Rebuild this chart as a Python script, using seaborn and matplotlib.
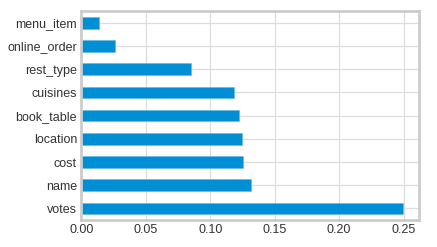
import matplotlib
matplotlib.use("Agg")
import matplotlib.pyplot as plt
import seaborn as sns
import pandas as pd

features = ["menu_item", "online_order", "rest_type", "cuisines", "book_table",
            "location", "cost", "name", "votes"]
importances = [0.0135, 0.0265, 0.0853, 0.1187, 0.1223, 0.1243, 0.1252, 0.1320, 0.2496]

df = pd.DataFrame({"feature": features, "importance": importances})

sns.set_style("whitegrid")
plt.rcParams["font.family"] = ["Liberation Sans", "DejaVu Sans"]

fig = plt.figure(figsize=(4.37, 2.47), dpi=100)
ax = fig.add_axes([0.186, 0.109, 0.773, 0.846])
sns.barplot(data=df, x="importance", y="feature", orient="h", order=features,
            color="#008fd5", saturation=1, width=0.5, ax=ax,
            edgecolor="#5fb8e6", linewidth=0.4)
ax.set_xlim(0, 0.262)
ax.set_ylim(8.5, -0.5)
ax.set_xticks([0.0, 0.05, 0.10, 0.15, 0.20, 0.25])
ax.set_xticklabels(["0.00", "0.05", "0.10", "0.15", "0.20", "0.25"])
ax.set_xlabel("")
ax.set_ylabel("")
ax.grid(True, color="#dddddd", linewidth=0.9)
ax.set_axisbelow(True)
for s in ax.spines.values():
    s.set_visible(True)
    s.set_color("#cccccc")
    s.set_linewidth(2)
ax.tick_params(axis="both", length=0, labelsize=9, colors="#333333", pad=3)
fig.savefig("out.png", dpi=100)
